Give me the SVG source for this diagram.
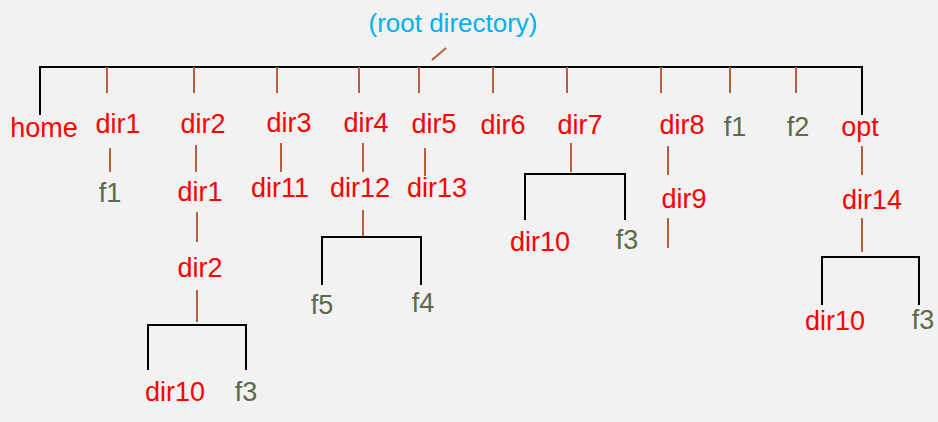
<svg xmlns="http://www.w3.org/2000/svg" width="938" height="422" viewBox="0 0 938 422">
<style>
text{font-family:"Liberation Sans",Arial,sans-serif;font-size:27px;text-anchor:middle;dominant-baseline:central}
.d{fill:#ff0000}.f{fill:#5b6a4b}.r{fill:#00b0f0;font-size:26px}
.k{stroke:#000;stroke-width:2;fill:none}.b{stroke:#b5603c;stroke-width:2;fill:none}
</style>
<rect width="938" height="422" fill="#f2f2f2"/>
<g id="connectors">
<path class="k" d="M40 115V67H862V115"/>
<path class="b" d="M432 60L446 48M107 67V93M194 67V93M277 67V93M359 67V93M419 67V93M493 67V93M567 67V93M661 67V93M730 67V93M796 67V93"/>
<path class="b" d="M110 148V172M196 145V172M197 212V242M197 290V322M281 143V172M363 143V172M363 210V237M425 148V176M571 143V172M668 146V175M668 218V248M862 146V175M862 218V252"/>
<path class="k" d="M148 370V325H246V370M322 285V237H421V285M525 220V174H625V220M822 305V257H919V305"/>
</g>
<g id="root"><text class="r" x="453" y="23">(root directory)</text></g>
<g id="top">
<text class="d" x="44" y="128">home</text><text class="d" x="118" y="124">dir1</text><text class="d" x="203" y="124">dir2</text><text class="d" x="289" y="123">dir3</text><text class="d" x="366" y="123">dir4</text><text class="d" x="434" y="124">dir5</text><text class="d" x="503" y="125">dir6</text><text class="d" x="580" y="125">dir7</text><text class="d" x="682" y="125">dir8</text><text class="f" x="735" y="127">f1</text><text class="f" x="798" y="127">f2</text><text class="d" x="860" y="127">opt</text>
</g>
<g id="sub">
<text class="f" x="110" y="193">f1</text>
<text class="d" x="200" y="192">dir1</text><text class="d" x="200" y="268">dir2</text><text class="d" x="175" y="392">dir10</text><text class="f" x="246" y="392">f3</text>
<text class="d" x="280" y="188">dir11</text>
<text class="d" x="360" y="188">dir12</text><text class="f" x="322" y="305">f5</text><text class="f" x="423" y="303">f4</text>
<text class="d" x="437" y="188">dir13</text>
<text class="d" x="540" y="242">dir10</text><text class="f" x="627" y="240">f3</text>
<text class="d" x="684" y="199">dir9</text>
<text class="d" x="872" y="200">dir14</text><text class="d" x="835" y="321">dir10</text><text class="f" x="923" y="320">f3</text>
</g>
</svg>
